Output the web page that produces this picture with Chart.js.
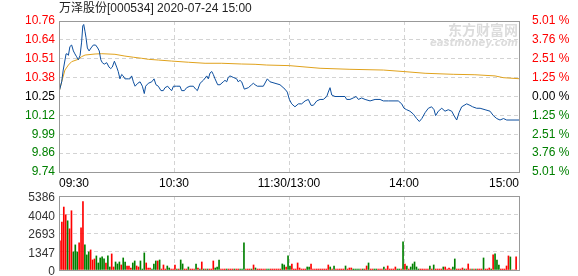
<!DOCTYPE html>
<html>
<head>
<meta charset="utf-8">
<script src="https://cdn.jsdelivr.net/npm/chart.js"></script>
<style>
  html, body { margin: 0; padding: 0; background: #fff; }
  #wrap { position: relative; width: 578px; height: 276px; }
  #priceBox { position: absolute; left: 0; top: 0; width: 578px; height: 192px; }
  #volBox { position: absolute; left: 0; top: 192px; width: 578px; height: 84px; }
</style>
</head>
<body>
<div id="wrap">
  <div id="priceBox"><canvas id="priceChart"></canvas></div>
  <div id="volBox"><canvas id="volChart"></canvas></div>
</div>
<script>
// 万泽股份 intraday, 2020-07-24, minutes after 09:30 (lunch break removed)
const titleText = "万泽股份[000534] 2020-07-24 15:00";
const preClose = 10.25;
const xLabels = ["09:30", "10:30", "11:30/13:00", "14:00", "15:00"];
const priceTicks = ["9.74", "9.86", "9.99", "10.12", "10.25", "10.38", "10.51", "10.64", "10.76"];
const pctTicks = ["5.01 %", "3.76 %", "2.51 %", "1.25 %", "0.00 %", "1.25 %", "2.51 %", "3.76 %", "5.01 %"];
const volTicks = [0, 1347, 2693, 4040, 5386];

const priceMin = [0,1.4,2.2,3.7,4.3,4.9,5.7,6.6,7.5,8.3,9.2,10.1,11,11.8,12.4,12.9,13.6,14.1,14.8,15.7,
  16.7,17.9,19.1,20.2,21,21.8,22.6,23.6,24.9,26.1,27,27.8,28.9,30.1,30.9,31.8,32.7,33.5,34.4,36.2,
  37,37.9,38.8,39.7,41.1,42.3,43.5,44.5,45.2,46.6,48.4,49.6,50.6,51.8,53.2,54.4,55.3,56.7,57.9,58.8,
  59.7,61.4,63.1,64,65.4,66.6,68.3,70.1,71.3,72.2,73.6,75.3,77.1,77.9,78.8,79.7,80.5,81.4,82.8,84,
  85.7,86.6,87.5,88.3,89.2,90.9,92.7,93.5,94.4,95.3,96.7,98.8,100.5,101.4,102.3,103.5,106.6,108.7,110.1,112.7,
  115.3,117.9,119.1,120.2,121.4,123.1,124.9,126.6,128.4,130.1,131.5,132.7,134.5,136.2,137.9,139.7,140.5,141.4,142.3,144,
  146.6,149.2,150.1,151.8,153.5,155,156.2,157.9,159.7,162.3,164.9,167.5,169.2,171.8,177,178.8,180,181.4,183.1,184.9,
  186.6,188,189.3,191,192.7,194.4,195.7,196.5,197.9,199.7,201.4,203.1,204.9,206.1,207.5,208.7,210.1,212.7,214.4,215.8,
  217.9,219.7,222.3,224.9,226.6,228.4,230.1,231.9,233.6,240];
const priceVal = [10.28,10.35,10.43,10.54,10.54,10.53,10.59,10.60,10.56,10.54,10.52,10.50,10.53,10.62,10.73,10.74,10.69,10.65,10.58,10.56,
  10.58,10.60,10.60,10.58,10.56,10.50,10.48,10.47,10.48,10.45,10.44,10.45,10.49,10.45,10.42,10.37,10.40,10.39,10.37,10.37,
  10.37,10.39,10.35,10.32,10.34,10.35,10.32,10.27,10.32,10.34,10.35,10.37,10.33,10.32,10.29,10.29,10.31,10.32,10.30,10.29,
  10.32,10.32,10.32,10.29,10.29,10.31,10.32,10.32,10.30,10.29,10.34,10.36,10.39,10.37,10.41,10.42,10.40,10.37,10.33,10.33,
  10.35,10.36,10.35,10.38,10.39,10.38,10.37,10.35,10.36,10.35,10.30,10.31,10.33,10.34,10.33,10.32,10.32,10.37,10.35,10.34,
  10.33,10.30,10.28,10.23,10.20,10.18,10.20,10.20,10.22,10.23,10.19,10.19,10.22,10.23,10.23,10.25,10.28,10.31,10.26,10.25,
  10.25,10.25,10.23,10.23,10.24,10.25,10.23,10.24,10.23,10.22,10.23,10.23,10.22,10.22,10.22,10.20,10.17,10.16,10.15,10.13,
  10.10,10.08,10.10,10.14,10.17,10.18,10.16,10.12,10.15,10.17,10.15,10.16,10.15,10.12,10.09,10.14,10.18,10.20,10.19,10.18,
  10.17,10.17,10.16,10.15,10.12,10.10,10.09,10.10,10.09,10.09];

const avgMin = [0,1.4,3.1,4.9,6.6,10.1,11.8,13.6,18.8,22.3,29.2,34.4,38.8,43.1,46.6,51.8,58.8,67.5,76.2,84.9,
  95.3,102.3,108.4,120.2,136.2,151.8,169.2,180.5,191,205.7,217,227.5,231.8,240];
const avgVal = [10.28,10.35,10.43,10.464,10.487,10.503,10.521,10.532,10.539,10.541,10.537,10.525,10.517,10.51,10.503,10.498,10.491,10.483,10.476,10.476,
  10.471,10.469,10.464,10.46,10.442,10.435,10.43,10.419,10.408,10.401,10.398,10.39,10.378,10.371];

// volume per minute (lots) and whether that minute closed up (1) or down (0)
const volumes = [
  2120,3485,4582,4021,3582,2998,4313,1316,1828,1316,
  1974,3071,4971,1828,1097,1316,1462,731,804,1024,
  512,877,950,804,512,1024,219,1170,219,585,
  439,585,366,877,585,292,292,146,512,658,
  292,219,658,70,1243,512,146,146,70,439,
  658,658,731,70,366,70,292,146,70,70,
  366,70,70,731,439,70,70,219,70,70,
  70,439,146,70,585,70,70,70,70,70,
  658,146,219,731,70,70,70,70,70,70,
  70,70,70,70,70,70,1974,70,70,70,
  70,366,146,70,70,70,70,70,70,70,
  70,70,70,70,70,70,439,366,219,1024,
  292,439,70,70,512,146,70,70,70,219,
  219,439,70,70,70,70,70,70,70,70,
  366,219,70,292,70,70,70,70,70,292,
  70,146,146,70,70,70,70,70,70,70,
  292,512,70,70,70,70,70,70,70,219,
  70,292,70,70,70,219,70,70,70,2047,
  439,292,70,219,439,585,219,70,70,70,
  70,70,70,292,70,366,70,70,70,70,
  219,219,70,146,70,219,804,70,70,70,
  146,70,70,439,70,70,70,70,70,70,
  70,877,70,70,146,70,1097,1170,731,366,
  70,70,70,292,1024,950,0,0,950];
const volUp = [
  1,1,1,1,0,1,1,0,0,0,
  1,1,1,0,0,0,1,1,1,0,
  0,0,0,0,1,0,0,1,1,0,
  0,0,1,0,0,1,1,1,0,0,
  1,1,0,0,0,1,1,1,0,0,
  0,1,0,1,1,1,0,0,1,1,
  1,0,1,0,0,1,1,0,1,1,
  1,0,1,0,1,0,1,0,1,1,
  1,0,0,0,1,1,1,0,1,1,
  1,0,1,1,0,0,0,1,1,1,
  0,1,0,1,1,1,1,1,0,0,
  1,1,1,1,1,1,0,0,1,0,
  0,1,1,1,1,1,1,1,1,0,
  0,1,1,1,1,1,1,1,1,1,
  1,0,1,0,1,1,1,1,1,0,
  1,1,1,0,0,0,0,1,0,1,
  1,0,1,1,0,0,1,1,1,0,
  1,1,1,1,1,1,0,0,1,0,
  1,0,1,0,0,0,0,0,1,1,
  1,1,1,0,1,0,1,1,1,1,
  0,1,1,1,1,0,0,1,1,1,
  1,0,1,1,1,0,1,0,1,1,
  1,0,1,1,1,0,1,0,0,0,
  1,1,1,1,1,0,1,1,1];

Chart.defaults.font.family = "'Liberation Sans', Arial, 'Noto Sans CJK SC', sans-serif";
Chart.defaults.font.size = 12;

const RED = "#ff0000", GREEN = "#008000", GRID = "#d3d3d3";
const yMax = preClose * 1.0501, yMin = preClose * 0.9499;

function tickColor(ctx) {
  if (ctx.index > 4) return RED;
  if (ctx.index === 4) return "#000";
  return GREEN;
}
function evenTicks(scale) {
  const out = [];
  for (let i = 0; i < 9; i++) out.push({ value: yMin + (yMax - yMin) * i / 8 });
  scale.ticks = out;
}
function minuteTicks(scale) {
  scale.ticks = xLabels.map((l, i) => ({ value: i * 60 }));
}

const frame = {
  id: "frame",
  afterDraw(chart) {
    const { ctx, chartArea: a } = chart;
    ctx.save();
    ctx.strokeStyle = "#999";
    ctx.lineWidth = 1;
    ctx.strokeRect(a.left + 0.5, a.top + 0.5, a.right - a.left, a.bottom - a.top);
    ctx.restore();
  }
};

const header = {
  id: "header",
  beforeDatasetsDraw(chart) {
    const ctx = chart.ctx;
    ctx.save();
    // watermark
    ctx.fillStyle = "#dcdcdc";
    ctx.textAlign = "right";
    ctx.textBaseline = "middle";
    ctx.font = "bold 14px 'Noto Sans CJK SC', sans-serif";
    ctx.fillText("东方财富网", 518, 30);
    ctx.font = "italic bold 10px 'DejaVu Sans', sans-serif";
    ctx.fillText("eastmoney.com", 518, 43);
    ctx.restore();
  },
  afterDraw(chart) {
    const ctx = chart.ctx;
    ctx.save();
    ctx.fillStyle = "#222";
    ctx.textAlign = "left";
    ctx.textBaseline = "middle";
    ctx.font = "12px 'Liberation Sans', 'Noto Sans CJK SC', sans-serif";
    ctx.fillText(titleText, 59, 9);
    ctx.restore();
  }
};

const priceChart = new Chart("priceChart", {
  type: "line",
  data: {
    datasets: [
      {
        label: "价格",
        data: priceMin.map((m, i) => ({ x: m, y: priceVal[i] })),
        borderColor: "#0c4e9e",
        borderWidth: 1,
        pointRadius: 0,
        tension: 0,
      },
      {
        label: "均价",
        data: avgMin.map((m, i) => ({ x: m, y: avgVal[i] })),
        borderColor: "#e0a21c",
        borderWidth: 1,
        pointRadius: 0,
        tension: 0,
      },
    ],
  },
  options: {
    animation: false,
    responsive: true,
    maintainAspectRatio: false,
    devicePixelRatio: 1,
    layout: { padding: { top: 21, left: 0, right: 0, bottom: 0 } },
    plugins: { legend: { display: false }, tooltip: { enabled: false } },
    scales: {
      x: {
        type: "linear", min: 0, max: 240,
        afterBuildTicks: minuteTicks,
        afterFit: s => { s.height = 20; },
        grid: { color: GRID, drawTicks: false },
        border: { display: false, dash: [4, 3] },
        ticks: {
          callback: v => xLabels[Math.round(v / 60)],
          align: "inner", maxRotation: 0, autoSkip: false,
          color: "#000", padding: 4,
        },
      },
      y: {
        position: "left", min: yMin, max: yMax,
        afterBuildTicks: evenTicks,
        afterFit: s => { s.width = 59; },
        grid: { color: GRID, drawTicks: false },
        border: { display: false, dash: [4, 3] },
        ticks: { callback: (v, i) => priceTicks[i], color: tickColor, padding: 4, autoSkip: false },
      },
      y2: {
        position: "right", min: yMin, max: yMax,
        afterBuildTicks: evenTicks,
        afterFit: s => { s.width = 59; },
        grid: { display: false },
        border: { display: false },
        ticks: { callback: (v, i) => pctTicks[8 - i], color: tickColor, padding: 5, autoSkip: false },
      },
    },
  },
  plugins: [header, frame],
});

const volChart = new Chart("volChart", {
  type: "bar",
  data: {
    datasets: [{
      label: "成交量",
      data: volumes.map((v, i) => ({ x: i + 0.5, y: v })),
      backgroundColor: volUp.map(u => (u ? RED : GREEN)),
      barThickness: 1,
    }],
  },
  options: {
    animation: false,
    responsive: true,
    maintainAspectRatio: false,
    devicePixelRatio: 1,
    layout: { padding: { top: 4, right: 59, bottom: 6, left: 0 } },
    plugins: { legend: { display: false }, tooltip: { enabled: false } },
    scales: {
      x: {
        type: "linear", min: 0, max: 240, offset: false,
        afterBuildTicks: minuteTicks,
        afterFit: s => { s.height = 0; },
        grid: { color: GRID, drawTicks: false, offset: false },
        border: { display: false, dash: [4, 3] },
        ticks: { display: false },
      },
      y: {
        min: 0, max: 5386,
        afterBuildTicks: s => { s.ticks = volTicks.map(v => ({ value: v })); },
        afterFit: s => { s.width = 59; s.paddingTop = 0; s.paddingBottom = 0; },
        grid: { color: GRID, drawTicks: false },
        border: { display: false, dash: [4, 3] },
        ticks: { callback: v => String(v), color: "#333", padding: 4, autoSkip: false, labelOffset: 2 },
      },
    },
  },
  plugins: [frame],
});
</script>
</body>
</html>
